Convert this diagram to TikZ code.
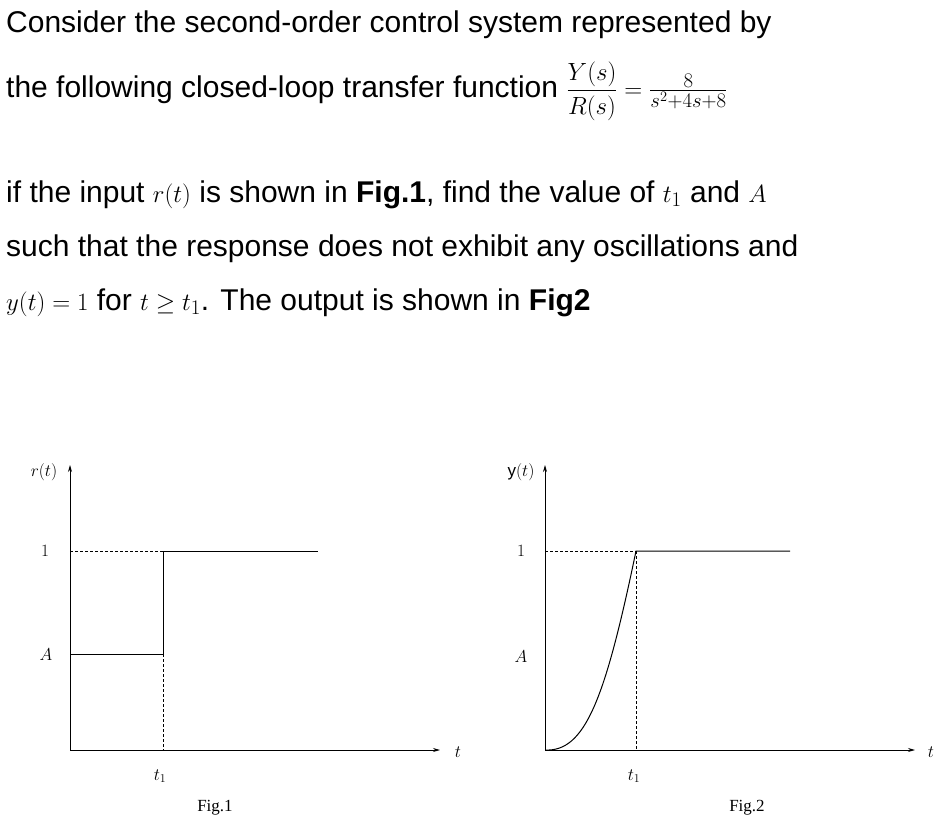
\documentclass[tikz,border=0pt]{standalone}
\usepackage{amsmath}
\usepackage{fontspec}
\setmainfont{Liberation Sans}
\newfontfamily\serifc{Liberation Serif}
\usetikzlibrary{arrows.meta}
\begin{document}
\begin{tikzpicture}[x=1pt,y=-1pt,
  txt/.style={anchor=base west,inner sep=0pt,font=\fontsize{30}{36}\selectfont},
  lab/.style={inner sep=0pt,font=\fontsize{17}{20}\selectfont},
  ax/.style={line width=0.8pt,-{Stealth[length=7pt,width=4pt]}},
  sig/.style={line width=1pt},
  dsh/.style={line width=0.6pt,dash pattern=on 3pt off 2pt}]
\useasboundingbox (0,0) rectangle (948,827);
\node[txt] (l1) at (6,32) {Consider the second-order control system represented by};
\node[txt] (l2) at (6,97) {the following closed-loop transfer function $\dfrac{Y(s)}{R(s)}=\frac{8}{s^2+4s+8}$};
\node[txt] (l3) at (6,202) {if the input $r(t)$ is shown in \textbf{Fig.1}, find the value of $t_1$ and $A$};
\node[txt] (l4) at (6,256) {such that the response does not exhibit any oscillations and};
\node[txt] (l5) at (6,310) {$y(t)=1$ for $t\geq t_1$. The output is shown in \textbf{Fig2}};
% Fig 1
\coordinate (o1) at (70,750);
\coordinate (y1) at (70,465);
\coordinate (x1) at (440,750);
\draw[ax] (o1) -- (y1);
\draw[ax] (o1) -- (x1);
\coordinate (a0) at (70,654); \coordinate (a1) at (163,654);
\coordinate (b1) at (163,551); \coordinate (b2) at (318,551);
\coordinate (c0) at (70,551); \coordinate (t1b) at (163,750);
\draw[sig] (a0) -- (a1) -- (b1) -- (b2);
\draw[dsh] (c0) -- (b1);
\draw[dsh] (a1) -- (t1b);
\node[lab] (r) at (44,472) {$r(t)$};
\node[lab] (one1) at (45,551) {$1$};
\node[lab] (A1) at (46,655) {$A$};
\node[lab] (t11) at (160,776) {$t_1$};
\node[lab] (tt1) at (458,752) {$t$};
\node[lab] (f1) at (215,808) {\serifc Fig.1};
% Fig 2
\coordinate (o2) at (545,750);
\coordinate (y2) at (545,465);
\coordinate (x2) at (915,750);
\draw[ax] (o2) -- (y2);
\draw[ax] (o2) -- (x2);
\coordinate (p1) at (636,551); \coordinate (p2) at (790,551);
\coordinate (c2) at (545,551); \coordinate (t2b) at (636,750);
\draw[sig] (o2) .. controls (585,752) and (605,700) .. (p1) -- (p2);
\draw[dsh] (c2) -- (p1);
\draw[dsh] (p1) -- (t2b);
\node[lab] (yl) at (521,472) {$\mathrm{y}(t)$};
\node[lab] (one2) at (521,551) {$1$};
\node[lab] (A2) at (521,657) {$A$};
\node[lab] (t12) at (634,776) {$t_1$};
\node[lab] (tt2) at (931,752) {$t$};
\node[lab] (f2) at (747,808) {\serifc Fig.2};
\end{tikzpicture}
\end{document}
